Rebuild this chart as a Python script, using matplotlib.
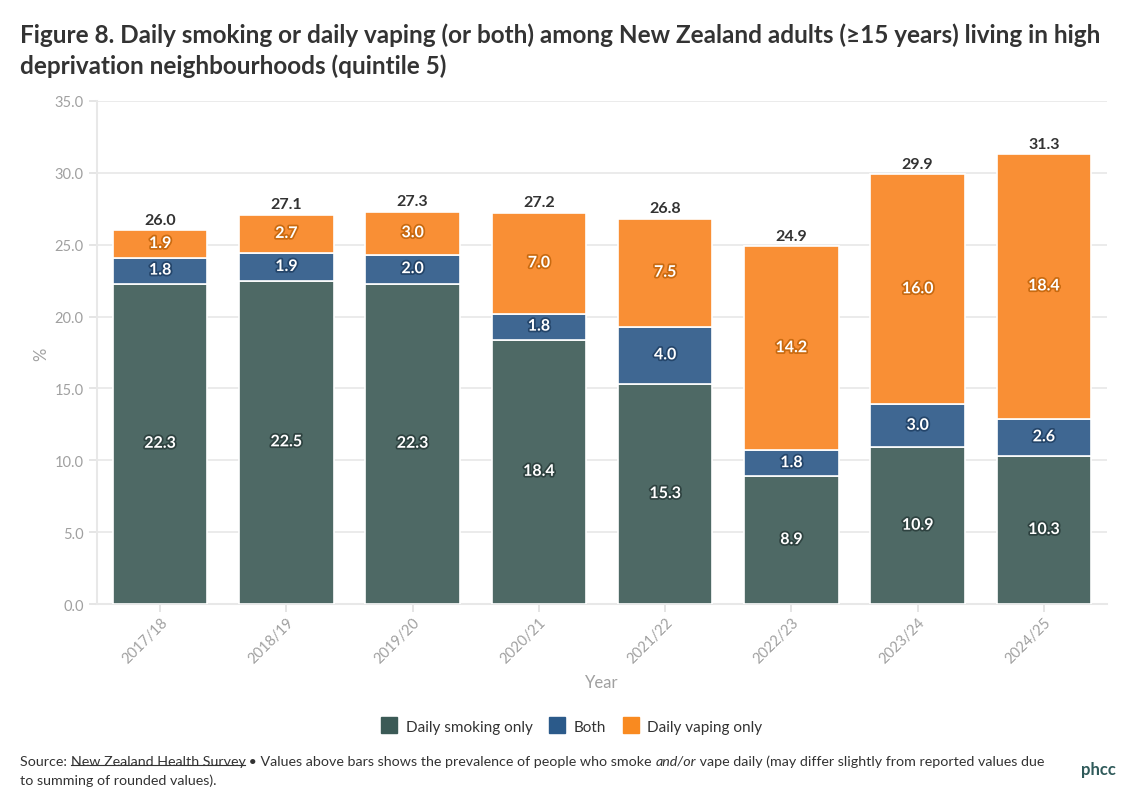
import matplotlib.pyplot as plt
import matplotlib.patheffects as pe
from matplotlib.lines import Line2D
import numpy as np

plt.rcParams['font.family'] = ['Lato', 'DejaVu Sans']

# Data
years = ['2017/18', '2018/19', '2019/20', '2020/21', '2021/22', '2022/23', '2023/24', '2024/25']
smoking_only = [22.3, 22.5, 22.3, 18.4, 15.3, 8.9, 10.9, 10.3]
both = [1.8, 1.9, 2.0, 1.8, 4.0, 1.8, 3.0, 2.6]
vaping_only = [1.9, 2.7, 3.0, 7.0, 7.5, 14.2, 16.0, 18.4]

series_names = ['Daily smoking only', 'Both', 'Daily vaping only']
colors = ['#4e6965', '#3f6792', '#f98f35']
halo = ['#2e4240', '#24456a', '#c96a10']

fig = plt.figure(figsize=(11.36, 8.12), dpi=100)
ax = fig.add_axes([0.0854, 0.2549, 0.8891, 0.6195])

x = np.arange(len(years))
bottom = np.zeros(len(years))
for vals, name, col, hcol in zip([smoking_only, both, vaping_only], series_names, colors, halo):
    vals = np.array(vals)
    ax.bar(x, vals, bottom=bottom, width=0.75, color=col, edgecolor='white',
           linewidth=1.2, label=name, zorder=3)
    for xi, b, v in zip(x, bottom, vals):
        ax.text(xi, b + v / 2, f'{v:.1f}', ha='center', va='center', color='white',
                fontsize=11.5, fontweight='bold', zorder=4,
                path_effects=[pe.withStroke(linewidth=2.5, foreground=hcol)])
    bottom = bottom + vals

# totals above each bar
for xi, t in zip(x, bottom):
    ax.text(xi, t + 0.25, f'{t:.1f}', ha='center', va='bottom', color='#333333',
            fontsize=11.5, fontweight='bold', zorder=4)

ax.set_xlim(-0.5, len(years) - 0.5)
ax.set_ylim(0, 35)
ax.set_yticks(np.arange(0, 36, 5))
ax.set_yticklabels([f'{v:.1f}' for v in np.arange(0, 36, 5)])
ax.yaxis.grid(True, color='#e8e8e8', linewidth=1.2, zorder=0)
ax.set_axisbelow(True)
ax.set_xticks(x)
ax.set_xticklabels(years, rotation=45, ha='right', rotation_mode='anchor')
ax.tick_params(axis='both', colors='#e0e0e0', labelcolor='#a0a0a0', labelsize=10.5, length=6, width=1.2)
ax.tick_params(axis='x', pad=2)
for s in ['top', 'right']:
    ax.spines[s].set_visible(False)
for s in ['left', 'bottom']:
    ax.spines[s].set_color('#e8e8e8')
    ax.spines[s].set_linewidth(1.5)
ax.set_xlabel('Year', color='#a0a0a0', fontsize=12, labelpad=6)
fig.text(0.036, 0.564, '%', color='#a0a0a0', fontsize=12, rotation=90, ha='center', va='center')

handles = [Line2D([0], [0], marker='s', linestyle='', markersize=11, markerfacecolor=c,
                  markeredgecolor=c) for c in ['#3b5a56', '#2b5a8a', '#f98a20']]
fig.legend(handles, series_names, loc='center', bbox_to_anchor=(0.5, 0.104), ncol=3,
           frameon=False, fontsize=11, handletextpad=0.1, columnspacing=0.6,
           labelcolor='#333333')

fig.text(0.0176, 0.957, 'Figure 8. Daily smoking or daily vaping (or both) among New Zealand adults (\u226515 years) living in high',
         fontsize=17.5, fontweight='bold', color='#333333', va='center')
fig.text(0.0176, 0.919, 'deprivation neighbourhoods (quintile 5)',
         fontsize=17.5, fontweight='bold', color='#333333', va='center')

# footer with underline and italics, placed piece by piece
fig.canvas.draw()
renderer = fig.canvas.get_renderer()
pieces = [('Source: ', 'normal', False), ('New Zealand Health Survey', 'normal', True),
          (' \u2022 Values above bars shows the prevalence of people who smoke ', 'normal', False),
          ('and/or', 'italic', False),
          (' vape daily (may differ slightly from reported values due', 'normal', False)]
xpos = 0.0176
y1 = 0.062
for txt, style, under in pieces:
    t = fig.text(xpos, y1, txt, fontsize=10.3, style=style, color='#333333', va='center')
    bb = t.get_window_extent(renderer).transformed(fig.transFigure.inverted())
    if under:
        fig.add_artist(Line2D([bb.x0, bb.x1], [bb.y0 + 0.002, bb.y0 + 0.002],
                              color='#333333', linewidth=0.8, transform=fig.transFigure))
    xpos = bb.x1
fig.text(0.0176, 0.038, 'to summing of rounded values).', fontsize=10.3, color='#333333', va='center')
fig.text(0.952, 0.052, 'phcc', fontsize=12, fontweight='bold', color='#2f5a5a', va='center')

fig.savefig('out.png', dpi=100, facecolor='white')
